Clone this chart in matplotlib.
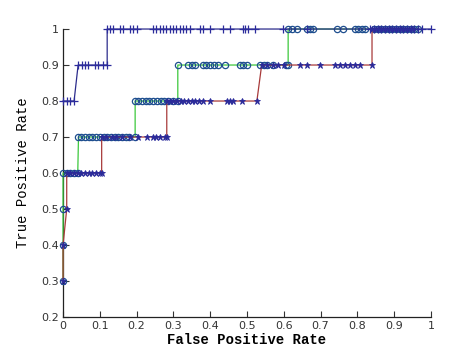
import matplotlib
matplotlib.use('Agg')
import matplotlib.pyplot as plt

# ROC curve 1 (blue, + markers)
fpr_a = [0, 0.01, 0.02, 0.03,
         0.041, 0.052, 0.060, 0.068, 0.087, 0.095, 0.109, 0.120,
         0.12, 0.128, 0.137, 0.155, 0.164, 0.182, 0.191, 0.200, 0.245, 0.254,
         0.263, 0.272, 0.281, 0.290, 0.299, 0.308, 0.317, 0.326, 0.335, 0.345,
         0.372, 0.381, 0.399, 0.435, 0.454, 0.490, 0.495, 0.504, 0.522, 0.598,
         0.662, 0.834, 0.845, 0.855, 0.865, 0.875, 0.885, 0.895, 0.905, 0.915,
         0.925, 0.935, 0.945, 0.955, 0.965, 0.975, 1.0]
tpr_a = [0.8] * 4 + [0.9] * 8 + [1.0] * 47

# ROC curve 2 (green line, circle markers)
fpr_b = [0, 0, 0, 0, 0.01, 0.02, 0.03, 0.04,
         0.042, 0.05, 0.06, 0.07, 0.08, 0.09, 0.10, 0.11, 0.12, 0.13, 0.14,
         0.15, 0.16, 0.17, 0.18, 0.196,
         0.196, 0.205, 0.215, 0.225, 0.235, 0.245, 0.255, 0.265, 0.275, 0.285,
         0.30, 0.312,
         0.312, 0.34, 0.35, 0.36, 0.38, 0.39, 0.40, 0.41, 0.42, 0.44, 0.48,
         0.49, 0.50, 0.535, 0.545, 0.555, 0.57, 0.605, 0.612,
         0.612, 0.622, 0.636, 0.663, 0.672, 0.679, 0.745, 0.76, 0.793, 0.803,
         0.812, 0.82, 0.845, 0.855, 0.865, 0.875, 0.885, 0.895, 0.905, 0.915,
         0.925, 0.935, 0.945, 0.955, 0.965]
tpr_b = ([0.3, 0.4, 0.5] + [0.6] * 5 + [0.7] * 16 + [0.8] * 12
         + [0.9] * 19 + [1.0] * 25)

# ROC curve 3 (red line, star markers)
fpr_c = [0, 0, 0.01, 0.01, 0.02, 0.03, 0.04, 0.05, 0.06, 0.07, 0.08, 0.09,
         0.10, 0.105,
         0.105, 0.118, 0.132, 0.145, 0.159, 0.182, 0.205, 0.227, 0.245, 0.254,
         0.263, 0.277, 0.282,
         0.282, 0.29, 0.30, 0.31, 0.32, 0.33, 0.34, 0.35, 0.36, 0.37, 0.38,
         0.40, 0.445, 0.453, 0.462, 0.486, 0.527,
         0.54, 0.555, 0.57, 0.585, 0.60, 0.644, 0.663, 0.698, 0.739, 0.753,
         0.766, 0.78, 0.793, 0.807, 0.84,
         0.84, 0.85, 0.86, 0.87, 0.88, 0.89, 0.90, 0.91, 0.92, 0.93, 0.94, 0.95]
tpr_c = ([0.3, 0.4, 0.5] + [0.6] * 11 + [0.7] * 13 + [0.8] * 17
         + [0.9] * 15 + [1.0] * 12)

xticks = [0, 0.1, 0.2, 0.3, 0.4, 0.5, 0.6, 0.7, 0.8, 0.9, 1]
yticks = [0.2, 0.3, 0.4, 0.5, 0.6, 0.7, 0.8, 0.9, 1]

fig = plt.figure(figsize=(4.74, 3.54), dpi=100)
ax = fig.add_axes([0.133, 0.1045, 0.776, 0.8135])

ax.plot(fpr_b, tpr_b, color='#3cc83c', lw=0.9, marker='o', ms=4.5,
        mfc='none', mec='#1f4f8f', mew=0.9, clip_on=False, zorder=3)
ax.plot(fpr_c, tpr_c, color='#a83a3a', lw=0.9, marker='*', ms=4.5,
        mfc='#2a2a9a', mec='#2a2a9a', mew=0.6, clip_on=False, zorder=4)
ax.plot(fpr_a, tpr_a, color='#2c2c8c', lw=0.9, marker='+', ms=6,
        mec='#2c2c9c', mew=0.9, clip_on=False, zorder=5)

ax.set_xlim(0, 1)
ax.set_ylim(0.2, 1)
ax.set_xticks(xticks)
ax.set_xticklabels([f'{t:g}' for t in xticks])
ax.set_yticks(yticks)
ax.set_yticklabels([f'{t:g}' for t in yticks])
ax.tick_params(direction='in', length=4, width=0.8, labelsize=8,
               colors='#333333', pad=3)
for s in ['top', 'right']:
    ax.spines[s].set_visible(False)
for s in ['left', 'bottom']:
    ax.spines[s].set_linewidth(0.9)
    ax.spines[s].set_color('#222222')

ax.set_xlabel('False Positive Rate', family='Liberation Mono',
              fontweight='bold', fontsize=10, labelpad=1)
ax.set_ylabel('True Positive Rate', family='Liberation Mono',
              fontsize=10, labelpad=8)

fig.savefig('out.png', dpi=100, facecolor='white')
